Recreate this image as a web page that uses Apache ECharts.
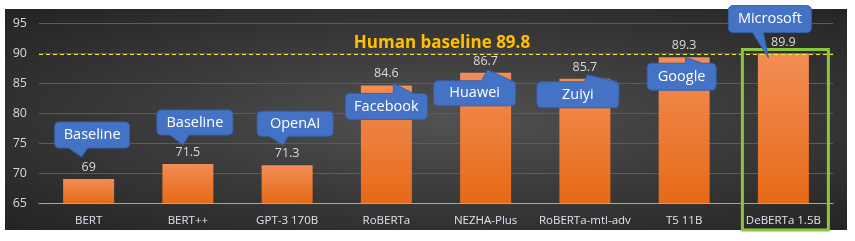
<!DOCTYPE html>
<html><head><meta charset="utf-8">
<script src="https://cdn.jsdelivr.net/npm/echarts@6/dist/echarts.min.js"></script>
<style>
html,body{margin:0;padding:0;background:#fff;}
#bg{position:absolute;left:5px;top:9px;width:842px;height:221px;background:radial-gradient(ellipse at 52% 50%, #525252 0%, #3c3c3c 45%, #232323 100%);}
#main{position:absolute;left:0;top:0;width:855px;height:241px;}
</style></head><body>
<div id="bg"></div><div id="main"></div>
<script>
// ---- data ----
const categories = ['BERT','BERT++','GPT-3 170B','RoBERTa','NEZHA-Plus','RoBERTa-mtl-adv','T5 11B','DeBERTa 1.5B'];
const scores = [69, 71.5, 71.3, 84.6, 86.7, 85.7, 89.3, 89.9];
const companies = ['Baseline','Baseline','OpenAI','Facebook','Huawei','Zuiyi','Google','Microsoft'];
const humanBaseline = 89.8;
const yMin = 65, yMax = 95, yStep = 5;
const highlightIndex = 7;

// ---- callout layout (relative to bar top pixel; style only) ----
const calloutLayout = [
  {l:-34,t:-57,w:75,h:26,side:'bottom',a:-20,b:-1,tx:-7,ty:-22},
  {l:-31,t:-54,w:76,h:25,side:'bottom',a:-18,b:1,tx:-5,ty:-19},
  {l:-30,t:-54,w:76,h:25,side:'bottom',a:-18,b:1,tx:-4,ty:-20},
  {l:-41,t:8,w:82,h:26,side:'top',a:7,b:27,tx:7,ty:-2},
  {l:-52,t:8,w:82,h:25,side:'top',a:-4,b:26,tx:2,ty:-3},
  {l:-48,t:3,w:82,h:26,side:'top',a:0,b:32,tx:2,ty:-4},
  {l:-37,t:6,w:69,h:27,side:'top',a:2,b:18,tx:1,ty:0},
  {l:-55,t:-48,w:83,h:27,side:'bottom',a:-31,b:-20,tx:-15,ty:4}
];

const FONT = '"Open Sans", "Noto Sans", sans-serif';

const CalloutShape = echarts.graphic.extendShape({
  shape: {L:0,T:0,W:0,H:0,side:'bottom',a:0,b:0,tx:0,ty:0,r:5},
  buildPath: function (ctx, s) {
    const L = s.L, T = s.T, R = s.L + s.W, B = s.T + s.H, r = s.r;
    ctx.moveTo(L + r, T);
    if (s.side === 'top') { ctx.lineTo(s.a, T); ctx.lineTo(s.tx, s.ty); ctx.lineTo(s.b, T); }
    ctx.lineTo(R - r, T);
    ctx.quadraticCurveTo(R, T, R, T + r);
    ctx.lineTo(R, B - r);
    ctx.quadraticCurveTo(R, B, R - r, B);
    if (s.side === 'bottom') { ctx.lineTo(s.b, B); ctx.lineTo(s.tx, s.ty); ctx.lineTo(s.a, B); }
    ctx.lineTo(L + r, B);
    ctx.quadraticCurveTo(L, B, L, B - r);
    ctx.lineTo(L, T + r);
    ctx.quadraticCurveTo(L, T, L + r, T);
    ctx.closePath();
  }
});
echarts.graphic.registerShape('callout', CalloutShape);

const chart = echarts.init(document.getElementById('main'), null, {renderer:'canvas'});

chart.setOption({
  backgroundColor: 'transparent',
  animation: false,
  grid: {left: 39, right: 22, top: 23, bottom: 38},
  xAxis: {
    type: 'category', data: categories,
    axisLine: {lineStyle: {color: '#a6a6a6', width: 1}},
    axisTick: {show: false},
    axisLabel: {color: '#dce3ee', fontSize: 11.5, margin: 12, fontFamily: FONT, interval: 0}
  },
  yAxis: {
    type: 'value', min: yMin, max: yMax, interval: yStep,
    axisLine: {show: false}, axisTick: {show: false},
    axisLabel: {color: '#d9d9d9', fontSize: 12.5, margin: 12, fontFamily: FONT},
    splitLine: {lineStyle: {color: '#5c5c5c', width: 1}}
  },
  series: [{
    type: 'bar', data: scores, barWidth: 51,
    itemStyle: {color: {type:'linear', x:0, y:0, x2:0, y2:1, colorStops:[
      {offset:0, color:'#f28d55'}, {offset:1, color:'#e66a17'}]}},
    label: {show: true, position: 'top', distance: 5, color: '#d9d9d9', fontSize: 12.5, fontFamily: FONT},
    markLine: {
      silent: true, symbol: ['none','none'],
      data: [{yAxis: humanBaseline}],
      lineStyle: {color: '#f2ea3a', type: [4, 3], width: 1},
      label: {show: true, position: 'insideMiddleTop', formatter: 'Human baseline ' + humanBaseline,
        color: '#ffc000', fontSize: 17, fontWeight: 'bold', fontFamily: FONT, distance: 3, padding: [0,0,0,12]}
    }
  }]
});

const elements = [];
scores.forEach((v, i) => {
  const [bx, by] = chart.convertToPixel({seriesIndex: 0}, [i, v]);
  const c = calloutLayout[i];
  const L = bx + c.l, T = by + c.t;
  elements.push({
    type: 'callout', z: 100,
    shape: {L: L, T: T, W: c.w, H: c.h, side: c.side, a: bx + c.a, b: bx + c.b, tx: bx + c.tx, ty: by + c.ty, r: 5},
    style: {fill: '#4472c4', stroke: '#3660ad', lineWidth: 1}
  });
  elements.push({
    type: 'text', z: 101,
    style: {text: companies[i], x: L + c.w/2, y: T + c.h/2, align: 'center', verticalAlign: 'middle',
      fill: '#ffffff', font: '14.5px ' + FONT}
  });
});
// highlight box around best model
{
  const [bx, by] = chart.convertToPixel({seriesIndex: 0}, [highlightIndex, scores[highlightIndex]]);
  const [, y0] = chart.convertToPixel({seriesIndex: 0}, [highlightIndex, yMin]);
  elements.push({
    type: 'rect', z: 90,
    shape: {x: bx - 41, y: by - 4, width: 86, height: (y0 + 27) - (by - 4)},
    style: {fill: 'none', stroke: '#8cc63e', lineWidth: 3}
  });
}
chart.setOption({graphic: {elements}});
</script>
</body></html>
